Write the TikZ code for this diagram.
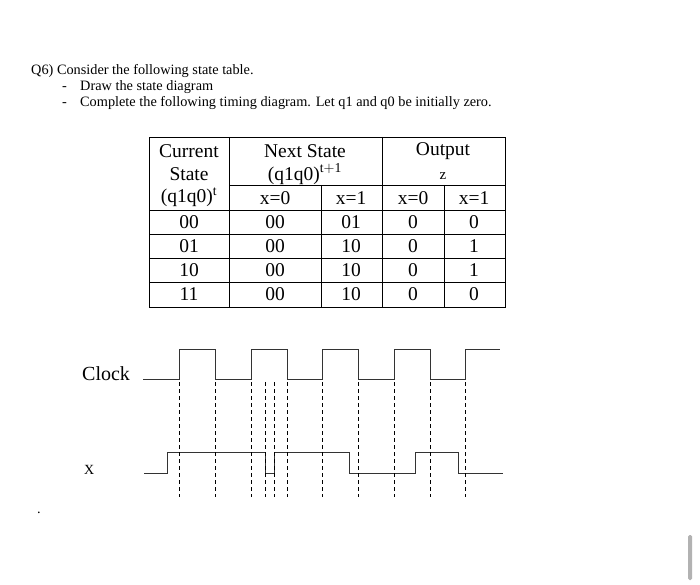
\documentclass[tikz,border=0pt]{standalone}
\usepackage{fontspec}
\setmainfont{Liberation Serif}
\begin{document}
\begin{tikzpicture}[x=1pt,y=-1pt,
  txt/.style={anchor=base west,inner sep=0,font=\fontsize{14.3}{16}\selectfont},
  cell/.style={inner sep=0,font=\fontsize{19.5}{21}\selectfont},
  sig/.style={line width=1pt,black!80},
  guide/.style={dashed,line width=0.8pt,dash pattern=on 4pt off 3pt}]
\useasboundingbox[fill=white] (0,0) rectangle (700,585);
\node[txt] (q) at (31,75) {Q6) Consider the following state table.};
\node[txt] (b1) at (62,91) {-};
\node[txt] (t1) at (80,91) {Draw the state diagram};
\node[txt] (b2) at (62,107) {-};
\node[txt] (t2) at (80,107) {Complete the following timing diagram. Let q1 and q0 be initially zero.};
% table
\draw[line width=0.8pt] (149,137) rectangle (505,307);
\foreach \x in {229,382} \draw[line width=0.8pt] (\x,137) -- (\x,307);
\foreach \x in {321,444} \draw[line width=0.8pt] (\x,185) -- (\x,307);
\draw[line width=0.8pt] (229,185) -- (505,185);
\foreach \y in {210,234,258,282} \draw[line width=0.8pt] (149,\y) -- (505,\y);
\node[cell] (h1) at (189,151) {Current};
\node[cell] (h2) at (189,174) {State};
\node[cell] (h3) at (189,197) {(q1q0)$^{\mathrm{t}}$};
\node[cell] (h4) at (305,151) {Next State};
\node[cell] (h5) at (305,174) {(q1q0)$^{\mathrm{t+1}}$};
\node[cell] (h6) at (443,151) {Output};
\node[cell,font=\fontsize{15}{16}\selectfont] (h7) at (443,176) {z};
\node[cell] (s1) at (275,198) {x=0};
\node[cell] (s2) at (351,198) {x=1};
\node[cell] (s3) at (413,198) {x=0};
\node[cell] (s4) at (474,198) {x=1};
\foreach \y/\a/\b/\c/\d/\e in {222/00/00/01/0/0,246/01/00/10/0/1,270/10/00/10/0/1,294/11/00/10/0/0}{
  \node[cell] at (189,\y) {\a};
  \node[cell] at (275,\y) {\b};
  \node[cell] at (351,\y) {\c};
  \node[cell] at (413,\y) {\d};
  \node[cell] at (474,\y) {\e};
}
% timing
\node[txt,font=\fontsize{20}{22}\selectfont] (clk) at (82,380) {Clock};
\node[txt,font=\fontsize{14}{16}\selectfont] (xl) at (84,474) {X};
\draw[sig] (143,379) -- (179,379) -- (179,349) -- (215,349) -- (215,379) -- (251,379) -- (251,349) -- (287,349) -- (287,379) -- (322,379) -- (322,349) -- (358,349) -- (358,379) -- (394,379) -- (394,349) -- (430,349) -- (430,379) -- (465,379) -- (465,349) -- (500,349);
\draw[sig] (144,473) -- (167,473) -- (167,452) -- (265,452) -- (265,473) -- (274,473) -- (274,452) -- (349,452) -- (349,473) -- (415,473) -- (415,452) -- (458,452) -- (458,473) -- (503,473);
\foreach \x in {179,215,251,265,274,287,322,358,394,430,465} \draw[guide] (\x,382) -- (\x,497);
\node[txt] (dot) at (37,513) {.};
\fill[gray!60,rounded corners=1.5pt] (688,535) rectangle (692,580);
\end{tikzpicture}
\end{document}
